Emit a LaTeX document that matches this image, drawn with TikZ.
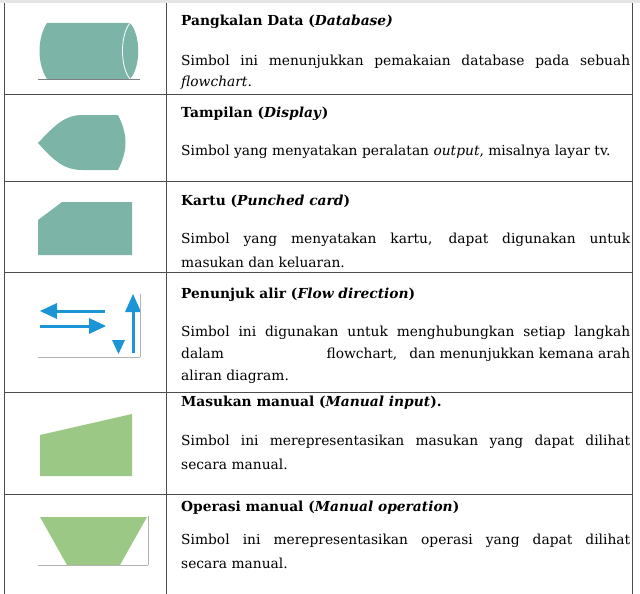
\documentclass[tikz,border=0pt]{standalone}
\usepackage{fontspec}
\setmainfont{DejaVu Serif}
\begin{document}
\begin{tikzpicture}[x=1pt,y=-1pt,
  teal/.style={fill=teal0,draw=none},
  grn/.style={fill=green0,draw=none},
  arr/.style={draw=blue0,line width=3pt},
  txt/.style={anchor=west,inner sep=0pt,font=\fontsize{13.8}{16}\selectfont},
  grid/.style={draw=black!70,line width=0.8pt}]
\definecolor{teal0}{HTML}{7CB5A7}
\definecolor{green0}{HTML}{9BC985}
\definecolor{blue0}{HTML}{1B95D6}
\useasboundingbox (0,0) rectangle (640,594);
\fill[gray!20] (0,0) rectangle (640,3);
% grid
\draw[grid] (4,3) -- (4,594);
\draw[grid] (166,3) -- (166,594);
\draw[grid] (632,3) -- (632,594);
\foreach \y in {94,181,272,392,494} \draw[grid] (4,\y) -- (632,\y);
% database
\path[teal] (47,23) -- (130,23) .. controls (141,35) and (141,67) .. (130,79) -- (47,79) .. controls (37,64) and (37,38) .. (47,23) -- cycle;
\draw[white,line width=0.8pt] (130,23) .. controls (120,35) and (120,67) .. (130,79);
\draw[gray,line width=0.6pt] (38,79) -- (140,79);
% display
\path[teal] (38,143) .. controls (55,125) and (65,115) .. (82,115) -- (118,115) .. controls (128,135) and (128,150) .. (118,170) -- (82,170) .. controls (65,170) and (55,162) .. (38,143) -- cycle;
% card
\path[teal] (38,220) -- (62,202) -- (132,202) -- (132,255) -- (38,255) -- cycle;
% flow
\coordinate (la1) at (105,311); \coordinate (ra1) at (40,326);
\draw[arr] (la1) -- (54,311);
\fill[blue0] (40,311) -- (57,303) -- (57,319) -- cycle;
\draw[arr] (ra1) -- (92,326);
\fill[blue0] (106,326) -- (89,318) -- (89,334) -- cycle;
\draw[arr] (133,353) -- (133,308);
\fill[blue0] (133,294) -- (125,312) -- (141,312) -- cycle;
\fill[blue0] (112,340) -- (125,340) -- (118.5,354) -- cycle;
\draw[gray!60,line width=0.6pt] (38,357) -- (140,357) (140,294) -- (140,357);
% manual input
\path[grn] (40,435) -- (132,414) -- (132,476) -- (40,476) -- cycle;
% manual op
\path[grn] (40,517) -- (147,517) -- (120,565) -- (67,565) -- cycle;
\draw[gray!60,line width=0.6pt] (38,565) -- (148,565) (148,516) -- (148,565);
% texts
\newcommand{\J}[1]{\makebox[449pt][s]{#1}}
\node[txt] (t1) at (181,22) {\textbf{Pangkalan Data (\textit{Database)}}};
\node[txt] (b1a) at (181,62) {\J{Simbol ini menunjukkan pemakaian database pada sebuah}};
\node[txt] (b1b) at (181,83) {\textit{flowchart}.};
\node[txt] (t2) at (181,114) {\textbf{Tampilan (\textit{Display})}};
\node[txt] (b2a) at (181,152) {Simbol yang menyatakan peralatan \textit{output}, misalnya layar tv.};
\node[txt] (t3) at (181,201) {\textbf{Kartu (\textit{Punched card})}};
\node[txt] (b3a) at (181,240) {\J{Simbol yang menyatakan kartu, dapat digunakan untuk}};
\node[txt] (b3b) at (181,262) {masukan dan keluaran.};
\node[txt] (t4) at (181,295) {\textbf{Penunjuk alir (\textit{Flow direction})}};
\node[txt] (b4a) at (181,333) {\J{Simbol ini digunakan untuk menghubungkan setiap langkah}};
\node[txt] (b4b) at (181,355) {\makebox[449pt][s]{dalam\hfill flowchart,\hspace{12pt}dan menunjukkan kemana arah}};
\node[txt] (b4c) at (181,377) {aliran diagram.};
\node[txt] (t5) at (181,403) {\textbf{Masukan manual (\textit{Manual input}).}};
\node[txt] (b5a) at (181,442) {\J{Simbol ini merepresentasikan masukan yang dapat dilihat}};
\node[txt] (b5b) at (181,464) {secara manual.};
\node[txt] (t6) at (181,508) {\textbf{Operasi manual (\textit{Manual operation})}};
\node[txt] (b6a) at (181,541) {\J{Simbol ini merepresentasikan operasi yang dapat dilihat}};
\node[txt] (b6b) at (181,563) {secara manual.};
\end{tikzpicture}
\end{document}
